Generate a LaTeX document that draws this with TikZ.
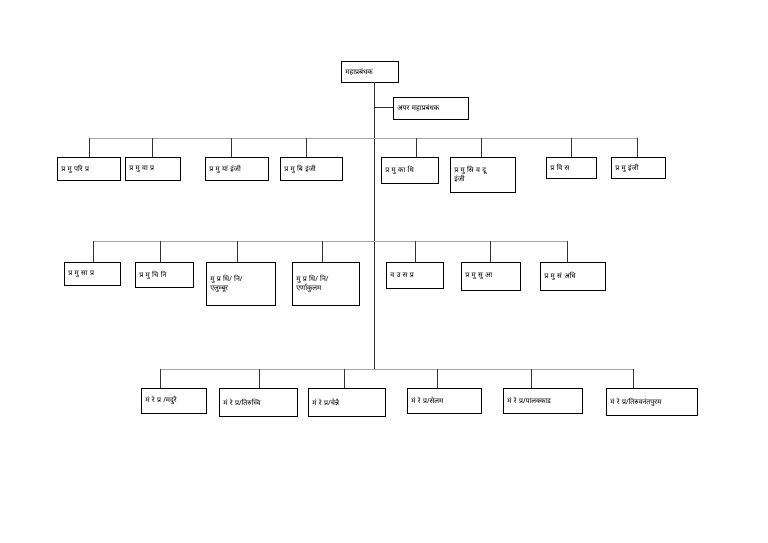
\documentclass[tikz,border=0pt]{standalone}
\usepackage{fontspec}
\setmainfont[Script=Devanagari]{Noto Sans}
\begin{document}
\begin{tikzpicture}[x=1pt,y=-1pt,
  bus/.style={draw=gray!70,line width=0.8pt},
  ln/.style={draw=black!80,line width=0.6pt}]
\useasboundingbox (0,0) rectangle (768,543);
\newcommand\bx[6]{%
  \pgfmathsetmacro\bw{#4-#2}\pgfmathsetmacro\bh{#5-#3}\pgfmathsetmacro\tw{#4-#2-8}%
  \node[draw,line width=0.7pt,anchor=north west,minimum width=\bw pt,minimum height=\bh pt,
    inner sep=3pt,text width=\tw pt,align=left,font=\fontsize{7}{9}\selectfont] (#1) at (#2,#3) {#6};}
\bx{gm}{341}{61}{398}{82}{महाप्रबंधक}
\bx{agm}{393}{97}{468}{119}{अपर महाप्रबंधक}
\coordinate (main) at (374,369);
\draw[ln] (374,82) -- (main);
\draw[ln] (374,107) -- (agm.west |- 0,107);
% row1
\draw[bus] (89,138) -- (637,138);
\foreach \n/\a/\b/\d/\y/\t in {a1/57/120/89/180/{प्र मु परि प्र},a2/125/180/152/180/{प्र मु वा प्र},a3/205/268/231/180/{प्र मु यां इंजी},a4/280/342/306/180/{प्र मु बि इंजी},a5/381/438/416/183/{प्र मु का धि},a6/450/515/481/192/{प्र मु सि व दू\\इंजी},a7/546/596/571/178/{प्र वि स},a8/611/665/637/178/{प्र मु इंजी}}{
  \bx{\n}{\a}{157}{\b}{\y}{\t}
  \draw[ln] (\d,138) -- (\d,157);}
% row2
\draw[bus] (93,241) -- (567,241);
\foreach \n/\a/\b/\d/\y/\t in {b1/64/120/93/285/{प्र मु सा प्र},b2/135/193/160/287/{प्र मु चि नि},b3/206/275/237/305/{मु प्र धि/ नि/\\एलुम्बूर},b4/292/359/322/305/{मु प्र धि/ नि/\\एर्णाकुलम},b5/386/443/415/288/{व उ स प्र},b6/461/520/490/290/{प्र मु सु आ},b7/540/605/567/290/{प्र मु सं अधि}}{
  \bx{\n}{\a}{262}{\b}{\y}{\t}
  \draw[ln] (\d,241) -- (\d,262);}
% row3
\draw[bus] (160,369) -- (633,369);
\foreach \n/\a/\b/\d/\y/\t in {c1/141/206/160/413/{मं रे प्र /मदुरै},c2/219/297/259/416/{मं रे प्र/तिरुच्चि},c3/308/385/344/416/{मं रे प्र/चेन्नै},c4/407/481/437/413/{मं रे प्र/सेलम},c5/503/582/531/413/{मं रे प्र/पालक्काड},c6/606/697/633/415/{मं रे प्र/तिरुवनंतपुरम}}{
  \bx{\n}{\a}{388}{\b}{\y}{\t}
  \draw[ln] (\d,369) -- (\d,388);}
\end{tikzpicture}
\end{document}
